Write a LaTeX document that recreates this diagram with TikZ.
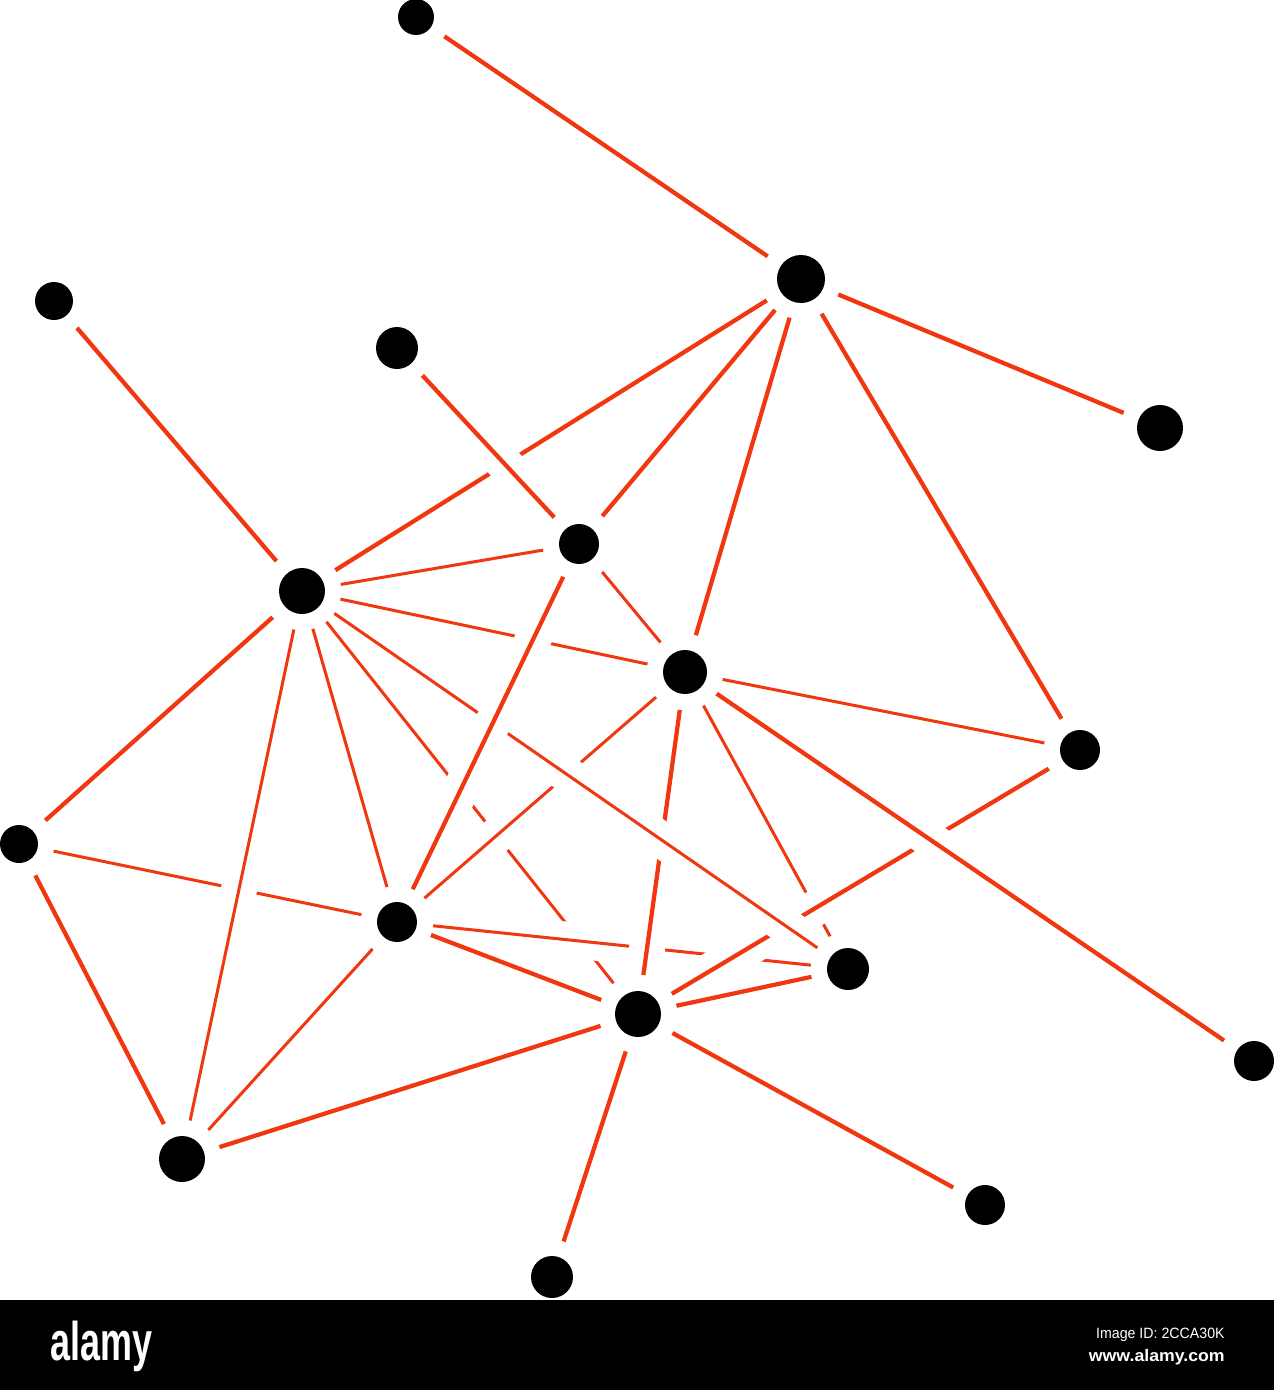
\documentclass[tikz,border=0pt]{standalone}
\usepackage{fontspec}
\setmainfont{Liberation Sans}
\newfontfamily\logofont[FakeStretch=0.66]{Liberation Sans}
\newfontfamily\idfont[FakeStretch=0.95]{Liberation Sans}
\newfontfamily\urlfont[FakeStretch=1.06]{Liberation Sans}
\definecolor{linered}{RGB}{240,55,15}
\newcommand\wthick{0.085cm}
\newcommand\wthin{0.06cm}
\tikzset{
  dot/.style={circle, fill=black, inner sep=0pt},
  halo/.style={draw=white, line width=0.72cm, line cap=butt, shorten <=0.82cm, shorten >=0.82cm},
  wire/.style={draw=linered, line cap=butt, shorten <=0.32cm, shorten >=0.32cm},
  wmark/.style={text=white, inner sep=0pt},
}
\newcommand\lnk[4][]{\draw[halo,#1] (#3) -- (#4); \draw[wire, line width=#2] (#3) -- (#4);}
\begin{document}
\begin{tikzpicture}[x=0.02cm, y=-0.02cm]
\useasboundingbox (0,0) rectangle (1274,1390);
\fill[white] (0,0) rectangle (1274,1390);
% nodes
\node[dot, minimum size=0.72cm] (A) at (416,17) {};
\node[dot, minimum size=0.96cm] (B) at (801,279) {};
\node[dot, minimum size=0.92cm] (C) at (1160,428) {};
\node[dot, minimum size=0.76cm] (D) at (54,301) {};
\node[dot, minimum size=0.84cm] (E) at (397,348) {};
\node[dot, minimum size=0.80cm] (F) at (579,544) {};
\node[dot, minimum size=0.92cm] (G) at (302,591) {};
\node[dot, minimum size=0.88cm] (H) at (685,672) {};
\node[dot, minimum size=0.80cm] (I) at (1080,750) {};
\node[dot, minimum size=0.76cm] (J) at (19,844) {};
\node[dot, minimum size=0.80cm] (K) at (397,922) {};
\node[dot, minimum size=0.84cm] (L) at (848,969) {};
\node[dot, minimum size=0.92cm] (M) at (638,1014) {};
\node[dot, minimum size=0.80cm] (N) at (1254,1061) {};
\node[dot, minimum size=0.92cm] (O) at (182,1159) {};
\node[dot, minimum size=0.80cm] (P) at (985,1205) {};
\node[dot, minimum size=0.84cm] (Q) at (552,1277) {};
% edges without crossings
\lnk{\wthick}{A}{B}
\lnk{\wthick}{B}{C}
\lnk{\wthick}{B}{F}
\lnk{\wthick}{B}{H}
\lnk{\wthick}{B}{I}
\lnk{\wthin}{H}{I}
\lnk{\wthick}{D}{G}
\lnk{\wthick}{G}{J}
\lnk{\wthin}{G}{K}
\lnk{\wthin}{G}{F}
\lnk{\wthin}{F}{H}
\lnk{\wthick}{J}{O}
\lnk{\wthin}{K}{O}
\lnk{\wthick}{O}{M}
\lnk{\wthick}{K}{M}
\lnk{\wthick}{M}{L}
\lnk{\wthick}{M}{P}
\lnk{\wthick}{M}{Q}
% edges in crossing order (later ones cut earlier ones)
\lnk{\wthin}{G}{M}
\lnk[shorten <=1.4cm]{\wthin}{K}{L}
\lnk{\wthin}{H}{L}
\lnk{\wthick}{H}{M}
\lnk{\wthin}{H}{K}
\lnk{\wthick}{I}{M}
\lnk{\wthick}{H}{N}
\lnk{\wthin}{G}{L}
\lnk{\wthin}{G}{H}
\lnk{\wthick}{F}{K}
\lnk{\wthick}{B}{G}
\lnk{\wthick}{E}{F}
\lnk{\wthin}{J}{K}
\lnk{\wthin}{G}{O}
% watermark bar
\fill[black] (0,1300) rectangle (1274,1390);
\node[wmark, anchor=base west, font=\logofont\bfseries\fontsize{31}{32}\selectfont] (logo) at (50,1360) {alamy};
\node[wmark, anchor=base east, font=\idfont\fontsize{8.5}{9}\selectfont] (imgid) at (1225,1338) {Image ID: 2CCA30K};
\node[wmark, anchor=base east, font=\urlfont\bfseries\fontsize{9.5}{10}\selectfont] (url) at (1225,1361) {www.alamy.com};
\end{tikzpicture}
\end{document}
